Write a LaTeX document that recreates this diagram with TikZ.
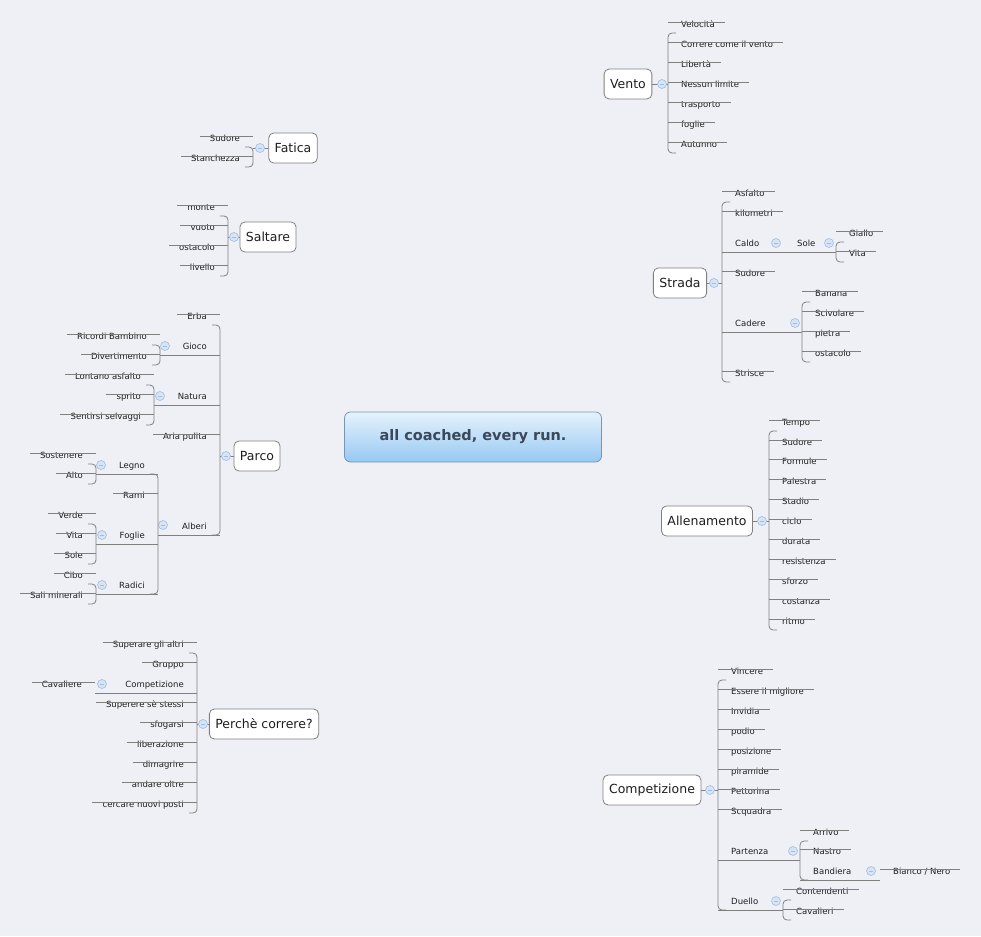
\documentclass[tikz,border=0pt]{standalone}
\usepackage{fontspec}
\setmainfont{DejaVu Sans}
\usetikzlibrary{backgrounds}
\definecolor{bg}{RGB}{238,240,246}
\definecolor{lnc}{RGB}{128,128,128}
\definecolor{txt}{RGB}{30,30,30}
\definecolor{ctop}{RGB}{230,243,253}
\definecolor{cbot}{RGB}{150,200,242}
\definecolor{cbrd}{RGB}{120,150,178}
\definecolor{ctxt}{RGB}{58,72,88}
\definecolor{mfill}{RGB}{214,228,246}
\definecolor{mdraw}{RGB}{160,190,225}
\tikzset{
 ln/.style={draw=lnc,line width=0.8pt},
 leafr/.style={anchor=south west,inner xsep=0pt,inner ysep=0pt,text depth=0pt,text height=6.5pt,yshift=5.5pt,font=\fontsize{8.5}{10}\selectfont,text=txt,
   append after command={($(\tikzlastnode.south west)+(0,-5.5)$) edge[ln] ($(\tikzlastnode.south east)+(0,-5.5)$)}},
 leafl/.style={leafr,anchor=south east},
 midr/.style={anchor=south west,inner xsep=0pt,inner ysep=0pt,text depth=0pt,text height=6.5pt,yshift=5.5pt,font=\fontsize{8.5}{10}\selectfont,text=txt},
 midl/.style={midr,anchor=south east},
 topic/.style={draw=lnc,fill=white,rounded corners=5pt,minimum height=30pt,inner xsep=6pt,font=\fontsize{12.5}{14}\selectfont,text=txt,line width=0.8pt},
 minus/.style={circle,draw=mdraw,fill=mfill,minimum size=9pt,inner sep=0pt,line width=0.6pt,
   path picture={\draw[mdraw,line width=0.7pt] ([xshift=-2pt]path picture bounding box.center) -- ([xshift=2pt]path picture bounding box.center);}},
}
\usetikzlibrary{calc}
\newcommand\LR[4]{\node[leafr] (#1) at (#2,#3) {\hspace*{13pt}#4\hspace*{10pt}};}
\newcommand\LL[4]{\node[leafl] (#1) at (#2,#3) {\hspace*{10pt}#4\hspace*{13pt}};}
\newcommand\MR[5]{\node[midr] (#1) at (#2,#3) {\hspace*{13pt}#5}; \draw[ln] (#1.south west|-0,#3) -- (#4,#3);}
\newcommand\ML[5]{\node[midl] (#1) at (#2,#3) {#5\hspace*{13pt}}; \draw[ln] (#2,#3) -- (#4,#3);}
\newcommand\SR[3]{\draw[ln,rounded corners=4pt] ({#1+8},#2) -- (#1,#2) -- (#1,#3) -- ({#1+8},#3);}
\newcommand\SL[3]{\draw[ln,rounded corners=4pt] ({#1-8},#2) -- (#1,#2) -- (#1,#3) -- ({#1-8},#3);}
\newcommand\MC[3]{\node[minus] (#1) at (#2,#3) {};}
\begin{document}
\begin{tikzpicture}[x=1pt,y=-1pt]
\fill[bg] (0,0) rectangle (981,936);
\useasboundingbox (0,0) rectangle (981,936);
% central
\node[draw=cbrd,rounded corners=6pt,top color=ctop,bottom color=cbot,minimum width=257pt,minimum height=50pt,font=\bfseries\fontsize{14.5}{16}\selectfont,text=ctxt,line width=0.8pt] (c) at (473,437) {all coached, every run.};
% topics
\node[topic] (vento) at (628,84) {Vento};
\node[topic] (strada) at (680,283) {Strada};
\node[topic] (allen) at (707,521) {Allenamento};
\node[topic] (compet) at (652,790) {Competizione};
\node[topic] (fatica) at (293,148) {Fatica};
\node[topic] (saltare) at (268,237) {Saltare};
\node[topic] (parco) at (257,456) {Parco};
\node[topic] (perche) at (264,724) {Perchè correre?};
\begin{scope}[on background layer]
\foreach \t in {vento,strada,allen,compet,fatica,saltare,parco,perche}{\draw[ln] (c.center) -- (\t.center);}
\end{scope}
% Vento
\draw[ln] (vento.east) -- (668,84);
\SR{668}{33}{153}
\MC{mv}{662}{84}
\LR{v1}{668}{33}{Velocità}
\LR{v2}{668}{53}{Correre come il vento}
\LR{v3}{668}{73}{Libertà}
\LR{v4}{668}{93}{Nessun limite}
\LR{v5}{668}{113}{trasporto}
\LR{v6}{668}{133}{foglie}
\LR{v7}{668}{153}{Autunno}
% Strada
\draw[ln] (strada.east) -- (722,283);
\SR{722}{202}{382}
\MC{ms}{714}{283}
\LR{s1}{722}{202}{Asfalto}
\LR{s2}{722}{222}{kilometri}
\MR{s3}{722}{252}{836}{Caldo}
\MC{ms3}{776}{243}
\MR{s3a}{784}{252}{836}{Sole}
\MC{ms3a}{829}{243}
\SR{836}{242}{262}
\LR{s3b}{836}{242}{Giallo}
\LR{s3c}{836}{262}{Vita}
\LR{s4}{722}{282}{Sudore}
\MR{s5}{722}{332}{802}{Cadere}
\MC{ms5}{795}{323}
\SR{802}{302}{362}
\LR{s5a}{802}{302}{Banana}
\LR{s5b}{802}{322}{Scivolare}
\LR{s5c}{802}{342}{pietra}
\LR{s5d}{802}{362}{ostacolo}
\LR{s6}{722}{382}{Strisce}
% Allenamento
\draw[ln] (allen.east) -- (769,521);
\SR{769}{431}{630}
\MC{ma}{762}{521}
\LR{a1}{769}{431}{Tempo}
\LR{a2}{769}{451}{Sudore}
\LR{a3}{769}{470}{Formule}
\LR{a4}{769}{490}{Palestra}
\LR{a5}{769}{510}{Stadio}
\LR{a6}{769}{530}{ciclo}
\LR{a7}{769}{550}{durata}
\LR{a8}{769}{570}{resistenza}
\LR{a9}{769}{590}{sforzo}
\LR{a10}{769}{610}{costanza}
\LR{a11}{769}{630}{ritmo}
% Competizione
\draw[ln] (compet.east) -- (718,790);
\SR{718}{680}{910}
\MC{mc}{710}{790}
\LR{c1}{718}{680}{Vincere}
\LR{c2}{718}{700}{Essere il migliore}
\LR{c3}{718}{720}{Invidia}
\LR{c4}{718}{740}{podio}
\LR{c5}{718}{760}{posizione}
\LR{c6}{718}{780}{piramide}
\LR{c7}{718}{800}{Pettorina}
\LR{c8}{718}{820}{Scquadra}
\MR{c9}{718}{860}{800}{Partenza}
\MC{mc9}{793}{851}
\SR{800}{841}{880}
\LR{c9a}{800}{841}{Arrivo}
\LR{c9b}{800}{860}{Nastro}
\MR{c9c}{800}{880}{880}{Bandiera}
\MC{mc9c}{871}{871}
\LR{c9d}{880}{880}{Bianco / Nero}
\MR{c10}{718}{910}{783}{Duello}
\MC{mc10}{776}{901}
\SR{783}{900}{920}
\LR{c10a}{783}{900}{Contendenti}
\LR{c10b}{783}{920}{Cavalieri}
% Fatica
\draw[ln] (fatica.west) -- (253,148);
\SL{253}{147}{167}
\MC{mf}{260}{148}
\LL{f1}{253}{147}{Sudore}
\LL{f2}{253}{167}{Stanchezza}
% Saltare
\draw[ln] (saltare.west) -- (228,237);
\SL{228}{216}{276}
\MC{msa}{234}{237}
\LL{sa1}{228}{216}{monte}
\LL{sa2}{228}{236}{vuoto}
\LL{sa3}{228}{256}{ostacolo}
\LL{sa4}{228}{276}{livello}
% Parco
\draw[ln] (parco.west) -- (220,456);
\SL{220}{325}{535}
\MC{mp}{226}{456}
\LL{p1}{220}{325}{Erba}
\ML{p2}{220}{355}{160}{Gioco}
\MC{mp2}{165}{346}
\SL{160}{345}{365}
\LL{p2a}{160}{345}{Ricordi Bambino}
\LL{p2b}{160}{365}{Divertimento}
\ML{p3}{220}{405}{154}{Natura}
\MC{mp3}{160}{396}
\SL{154}{385}{425}
\LL{p3a}{154}{385}{Lontano asfalto}
\LL{p3b}{154}{405}{sprito}
\LL{p3c}{154}{425}{Sentirsi selvaggi}
\LL{p4}{220}{445}{Aria pulita}
\ML{p5}{220}{535}{158}{Alberi}
\MC{mp5}{163}{525}
\SL{158}{474}{594}
\ML{p5a}{158}{474}{96}{Legno}
\MC{mp5a}{101}{465}
\SL{96}{464}{484}
\LL{p5a1}{96}{464}{Sostenere}
\LL{p5a2}{96}{484}{Alto}
\LL{p5b}{158}{504}{Rami}
\ML{p5c}{158}{544}{96}{Foglie}
\MC{mp5c}{102}{535}
\SL{96}{524}{564}
\LL{p5c1}{96}{524}{Verde}
\LL{p5c2}{96}{544}{Vita}
\LL{p5c3}{96}{564}{Sole}
\ML{p5d}{158}{594}{96}{Radici}
\MC{mp5d}{102}{585}
\SL{96}{584}{604}
\LL{p5d1}{96}{584}{Cibo}
\LL{p5d2}{96}{604}{Sali minerali}
% Perche
\draw[ln] (perche.west) -- (197,724);
\SL{197}{653}{813}
\MC{mpc}{203}{724}
\LL{q1}{197}{653}{Superare gli altri}
\LL{q2}{197}{673}{Gruppo}
\ML{q3}{197}{693}{95}{Competizione}
\MC{mq3}{102}{684}
\LL{q3a}{95}{693}{Cavaliere}
\LL{q4}{197}{713}{Superere sè stessi}
\LL{q5}{197}{733}{sfogarsi}
\LL{q6}{197}{753}{liberazione}
\LL{q7}{197}{773}{dimagrire}
\LL{q8}{197}{793}{andare oltre}
\LL{q9}{197}{813}{cercare nuovi posti}
\end{tikzpicture}
\end{document}
